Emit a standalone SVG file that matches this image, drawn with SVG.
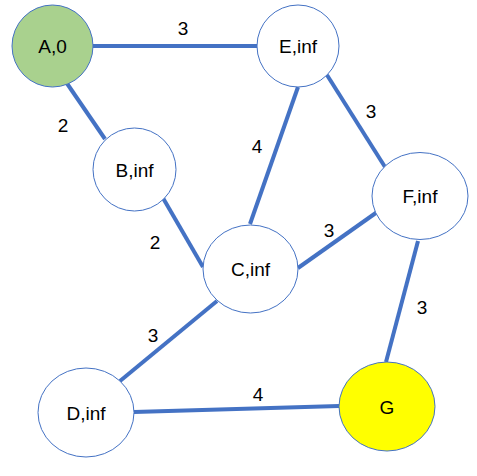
<svg xmlns="http://www.w3.org/2000/svg" width="477" height="476" viewBox="0 0 477 476">
<style>
.edge{stroke:#4472C4;stroke-width:4;fill:none}
.node{stroke:#4472C4;stroke-width:1;fill:#FFFFFF}
text{font-family:"Liberation Sans",Arial,sans-serif;font-size:19px;fill:#000;text-anchor:middle}
.el{font-size:19px}
</style>
<rect width="477" height="476" fill="#FFFFFF"/>
<g id="connectors">
<line class="edge" x1="93" y1="46" x2="257" y2="46"/>
<line class="edge" x1="66" y1="82" x2="105" y2="139"/>
<line class="edge" x1="163" y1="198" x2="203" y2="267"/>
<line class="edge" x1="298" y1="87" x2="250" y2="224"/>
<line class="edge" x1="327" y1="75" x2="385" y2="167"/>
<line class="edge" x1="298" y1="268" x2="380" y2="210"/>
<line class="edge" x1="418" y1="241" x2="386" y2="362"/>
<line class="edge" x1="217" y1="301" x2="120" y2="381"/>
<line class="edge" x1="134" y1="412" x2="339" y2="406"/>
<text class="el" x="183" y="35">3</text>
<text class="el" x="63" y="132">2</text>
<text class="el" x="257" y="153">4</text>
<text class="el" x="371" y="118">3</text>
<text class="el" x="329" y="237">3</text>
<text class="el" x="155" y="249">2</text>
<text class="el" x="422" y="314">3</text>
<text class="el" x="153" y="342">3</text>
<text class="el" x="258" y="401">4</text>
</g>
<g id="node-A"><ellipse class="node" cx="52.5" cy="46" rx="40.5" ry="41" style="fill:#A9D18E"/><text x="52.5" y="53">A,0</text></g>
<g id="node-E"><ellipse class="node" cx="298" cy="46" rx="41" ry="41"/><text x="298" y="53">E,inf</text></g>
<g id="node-B"><ellipse class="node" cx="134.5" cy="169.5" rx="41.5" ry="41.5"/><text x="134.5" y="176.5">B,inf</text></g>
<g id="node-F"><ellipse class="node" cx="420" cy="196" rx="48" ry="43.5"/><text x="420" y="203">F,inf</text></g>
<g id="node-C"><ellipse class="node" cx="250.5" cy="269" rx="47.5" ry="44"/><text x="250.5" y="276">C,inf</text></g>
<g id="node-D"><ellipse class="node" cx="86" cy="412.5" rx="48" ry="44.5"/><text x="86" y="419.5">D,inf</text></g>
<g id="node-G"><ellipse class="node" cx="387" cy="406.5" rx="48" ry="44.5" style="fill:#FFFF00"/><text x="387" y="413.5">G</text></g>
</svg>
